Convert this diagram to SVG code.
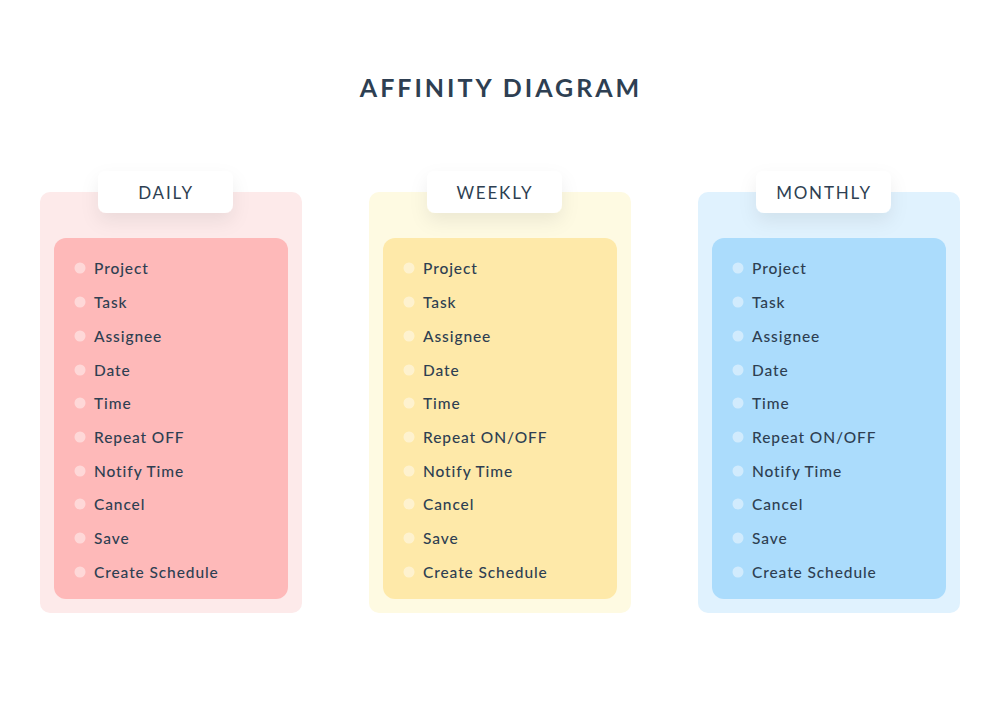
<svg xmlns="http://www.w3.org/2000/svg" width="1000" height="708" viewBox="0 0 1000 708">
<defs>
<filter id="sh" x="-30%" y="-40%" width="160%" height="220%">
<feDropShadow dx="0" dy="8" stdDeviation="9" flood-color="#000" flood-opacity="0.07"/>
</filter>
</defs>
<style>
.title{font-family:Lato,"Open Sans",sans-serif;font-weight:700;font-size:25px;letter-spacing:3px;fill:#2e3f52;text-anchor:middle}
.hd{font-family:Lato,"Open Sans",sans-serif;font-size:17px;letter-spacing:1.8px;fill:#2e3f52;text-anchor:middle}
.it{font-family:Lato,"Open Sans",sans-serif;font-size:15.5px;font-weight:500;letter-spacing:0.9px;fill:#2e3f52}
.tab{fill:#fff;filter:url(#sh)}
.b{fill:#fff;opacity:0.45}
</style>
<rect width="1000" height="708" fill="#fff"/>
<text class="title" x="501" y="97">AFFINITY DIAGRAM</text>

<g id="daily">
<rect x="40" y="192" width="262" height="421" rx="10" fill="#fdeaea"/>
<rect x="54" y="238" width="234" height="361" rx="12" fill="#feb9b9"/>
<rect class="tab" x="98" y="171" width="135" height="42" rx="8"/>
<text class="hd" x="166" y="199">DAILY</text>
<g class="b"><circle cx="80" cy="268" r="5.5"/><circle cx="80" cy="302" r="5.5"/><circle cx="80" cy="336" r="5.5"/><circle cx="80" cy="370" r="5.5"/><circle cx="80" cy="403" r="5.5"/><circle cx="80" cy="437" r="5.5"/><circle cx="80" cy="471" r="5.5"/><circle cx="80" cy="504" r="5.5"/><circle cx="80" cy="538" r="5.5"/><circle cx="80" cy="572" r="5.5"/></g>
<text class="it" x="94" y="274">Project</text>
<text class="it" x="94" y="308">Task</text>
<text class="it" x="94" y="342">Assignee</text>
<text class="it" x="94" y="376">Date</text>
<text class="it" x="94" y="409">Time</text>
<text class="it" x="94" y="443">Repeat OFF</text>
<text class="it" x="94" y="477">Notify Time</text>
<text class="it" x="94" y="510">Cancel</text>
<text class="it" x="94" y="544">Save</text>
<text class="it" x="94" y="578">Create Schedule</text>
</g>

<g id="weekly">
<rect x="369" y="192" width="262" height="421" rx="10" fill="#fefae2"/>
<rect x="383" y="238" width="234" height="361" rx="12" fill="#fee9a9"/>
<rect class="tab" x="427" y="171" width="135" height="42" rx="8"/>
<text class="hd" x="495" y="199">WEEKLY</text>
<g class="b"><circle cx="409" cy="268" r="5.5"/><circle cx="409" cy="302" r="5.5"/><circle cx="409" cy="336" r="5.5"/><circle cx="409" cy="370" r="5.5"/><circle cx="409" cy="403" r="5.5"/><circle cx="409" cy="437" r="5.5"/><circle cx="409" cy="471" r="5.5"/><circle cx="409" cy="504" r="5.5"/><circle cx="409" cy="538" r="5.5"/><circle cx="409" cy="572" r="5.5"/></g>
<text class="it" x="423" y="274">Project</text>
<text class="it" x="423" y="308">Task</text>
<text class="it" x="423" y="342">Assignee</text>
<text class="it" x="423" y="376">Date</text>
<text class="it" x="423" y="409">Time</text>
<text class="it" x="423" y="443">Repeat ON/OFF</text>
<text class="it" x="423" y="477">Notify Time</text>
<text class="it" x="423" y="510">Cancel</text>
<text class="it" x="423" y="544">Save</text>
<text class="it" x="423" y="578">Create Schedule</text>
</g>

<g id="monthly">
<rect x="698" y="192" width="262" height="421" rx="10" fill="#e0f2fe"/>
<rect x="712" y="238" width="234" height="361" rx="12" fill="#abdcfc"/>
<rect class="tab" x="756" y="171" width="135" height="42" rx="8"/>
<text class="hd" x="824" y="199">MONTHLY</text>
<g class="b"><circle cx="738" cy="268" r="5.5"/><circle cx="738" cy="302" r="5.5"/><circle cx="738" cy="336" r="5.5"/><circle cx="738" cy="370" r="5.5"/><circle cx="738" cy="403" r="5.5"/><circle cx="738" cy="437" r="5.5"/><circle cx="738" cy="471" r="5.5"/><circle cx="738" cy="504" r="5.5"/><circle cx="738" cy="538" r="5.5"/><circle cx="738" cy="572" r="5.5"/></g>
<text class="it" x="752" y="274">Project</text>
<text class="it" x="752" y="308">Task</text>
<text class="it" x="752" y="342">Assignee</text>
<text class="it" x="752" y="376">Date</text>
<text class="it" x="752" y="409">Time</text>
<text class="it" x="752" y="443">Repeat ON/OFF</text>
<text class="it" x="752" y="477">Notify Time</text>
<text class="it" x="752" y="510">Cancel</text>
<text class="it" x="752" y="544">Save</text>
<text class="it" x="752" y="578">Create Schedule</text>
</g>

<g id="connectors"></g>
</svg>
